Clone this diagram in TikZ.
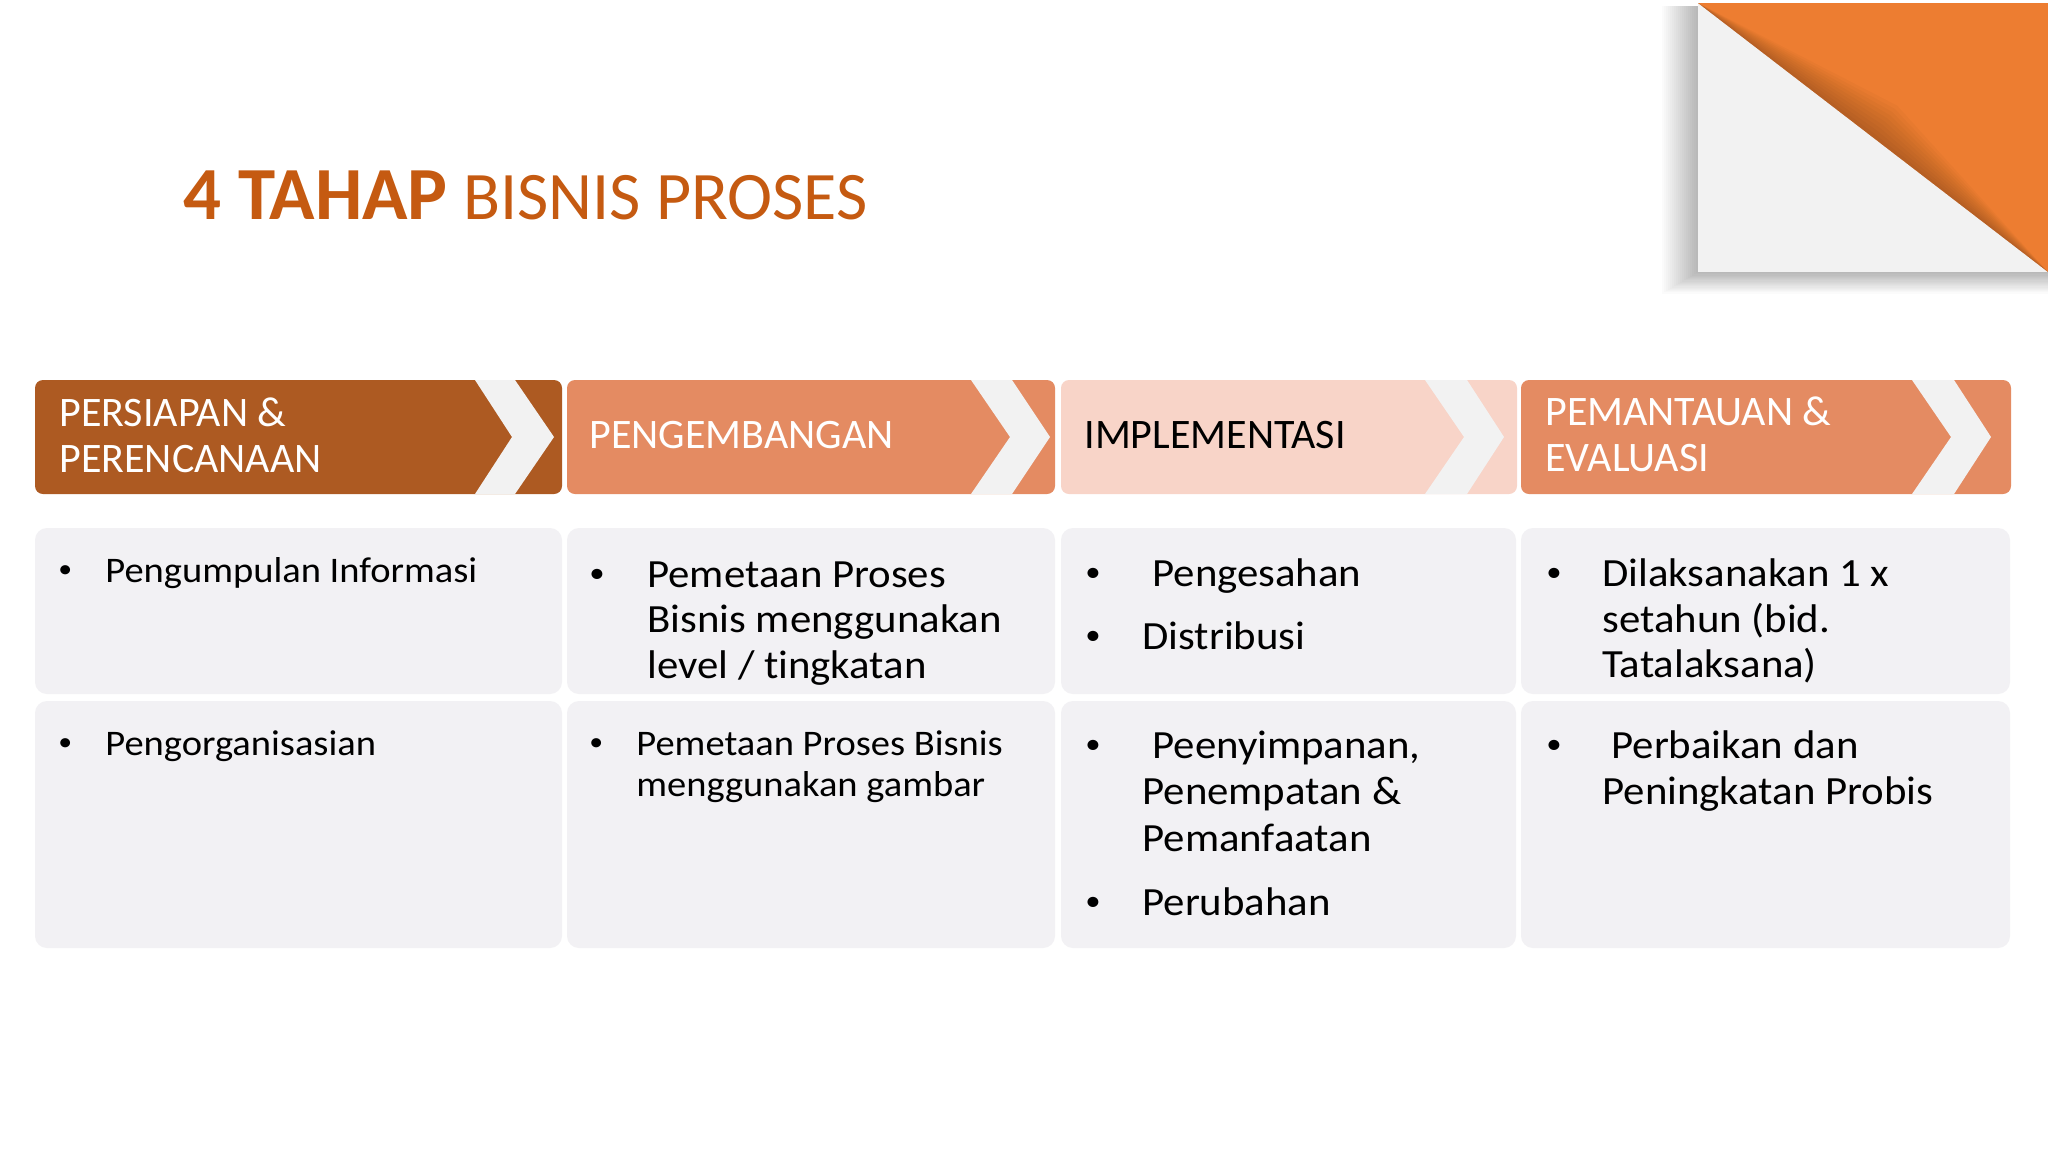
\documentclass[tikz,border=0pt]{standalone}
\usepackage{fontspec}
\setmainfont{Carlito}[Ligatures=CommonOff]
\newfontfamily\bodyfont{Carlito}[FakeStretch=1.07, Ligatures=CommonOff]
\definecolor{titleC}{HTML}{C55A11}
\definecolor{boxA}{HTML}{AD5A22}
\definecolor{boxB}{HTML}{E48B62}
\definecolor{boxC}{HTML}{F8D4C8}
\definecolor{chev}{HTML}{F2F2F2}
\definecolor{cellC}{HTML}{F2F1F4}
\definecolor{cornerO}{HTML}{ED7D31}
\definecolor{cornerG}{HTML}{F2F2F2}
\newcommand{\bul}{\raisebox{0.12em}{\scalebox{0.72}{•}}}
\begin{document}
\begin{tikzpicture}[x=0.5pt,y=-0.5pt,
  txt/.style={anchor=base west, inner sep=0pt},
  hdr/.style={txt, text=white, font=\fontsize{21}{24}\selectfont},
  big/.style={txt, font=\bodyfont\fontsize{20}{23}\selectfont},
  small/.style={txt, font=\bodyfont\fontsize{18}{21}\selectfont},
  cellbox/.style={fill=cellC, rounded corners=6pt},
  hbox/.style={rounded corners=4pt},
  chevron/.style={fill=chev}]
\useasboundingbox (0,0) rectangle (2048,1152);
\fill[white] (0,0) rectangle (2048,1152);

% corner decoration
\foreach \r in {2,4,...,36} {
  \fill[black, opacity=0.016] (1698-\r,6) rectangle (2048,272+\r*0.6);
}
\fill[cornerG] (1698,3) rectangle (2048,272);
\fill[cornerO] (1698,3) -- (2048,3) -- (2048,272) -- cycle;
\foreach \d in {4,8,...,40} {
  \fill[black, opacity=0.022] (1698,3) -- ({1873+0.605*\d},{137.5-0.797*\d}) -- (2048,272) -- cycle;
}

% title
\node[txt, text=titleC, font=\fontsize{34}{40}\selectfont] (title) at (183,219)
  {{\fontsize{37.5}{40}\selectfont\bfseries 4 TAHAP} BISNIS PROSES};

% header bars
\fill[boxA, hbox] (35,380) rectangle (562,494);
\fill[chevron] (475,380) -- (515,380) -- (554,437) -- (515,494) -- (475,494) -- (512,437) -- cycle;
\fill[boxB, hbox] (567,380) rectangle (1055,494);
\fill[chevron] (971,380) -- (1012,380) -- (1050,437) -- (1012,494) -- (971,494) -- (1010,437) -- cycle;
\fill[boxC, hbox] (1061,380) rectangle (1517,494);
\fill[chevron] (1425,380) -- (1467,380) -- (1504,437) -- (1467,494) -- (1425,494) -- (1464,437) -- cycle;
\fill[boxB, hbox] (1521,380) rectangle (2011,494);
\fill[chevron] (1912,380) -- (1954,380) -- (1991,437) -- (1954,494) -- (1912,494) -- (1951,437) -- cycle;

\node[hdr] (h1a) at (59,426) {PERSIAPAN \&};
\node[hdr] (h1b) at (59,472) {PERENCANAAN};
\node[hdr] (h2) at (589,448) {PENGEMBANGAN};
\node[hdr, text=black] (h3) at (1084,448) {IMPLEMENTASI};
\node[hdr] (h4a) at (1545,425) {PEMANTAUAN \&};
\node[hdr] (h4b) at (1545,471) {EVALUASI};

% cells
\fill[cellbox] (35,528) rectangle (562,694);
\fill[cellbox] (567,528) rectangle (1055,694);
\fill[cellbox] (1061,528) rectangle (1516,694);
\fill[cellbox] (1521,528) rectangle (2010,694);
\fill[cellbox] (35,701) rectangle (562,948);
\fill[cellbox] (567,701) rectangle (1055,948);
\fill[cellbox] (1061,701) rectangle (1516,948);
\fill[cellbox] (1521,701) rectangle (2010,948);

% column 1
\node[small] (b11) at (58,582) {\bul};
\node[small] (t11) at (105,582) {Pengumpulan Informasi};
\node[small] (b12) at (58,755) {\bul};
\node[small] (t12) at (105,755) {Pengorganisasian};

% column 2
\node[big] (b21) at (589,587) {\bul};
\node[big] (t21a) at (647,587) {Pemetaan Proses};
\node[big] (t21b) at (647,632) {Bisnis menggunakan};
\node[big] (t21c) at (647,678) {level / tingkatan};
\node[small] (b22) at (589,755) {\bul};
\node[small] (t22a) at (636,755) {Pemetaan Proses Bisnis};
\node[small] (t22b) at (636,796) {menggunakan gambar};

% column 3
\node[big] (b31) at (1085,586) {\bul};
\node[big] (t31) at (1152,586) {Pengesahan};
\node[big] (b31b) at (1085,649) {\bul};
\node[big] (t31b) at (1142,649) {Distribusi};
\node[big] (b32) at (1085,758) {\bul};
\node[big] (t32a) at (1152,758) {Peenyimpanan,};
\node[big] (t32b) at (1142,804) {Penempatan \&};
\node[big] (t32c) at (1142,851) {Pemanfaatan};
\node[big] (b32b) at (1085,915) {\bul};
\node[big] (t32d) at (1142,915) {Perubahan};

% column 4
\node[big] (b41) at (1546,586) {\bul};
\node[big] (t41a) at (1602,586) {Dilaksanakan 1 x};
\node[big] (t41b) at (1602,632) {setahun (bid.};
\node[big] (t41c) at (1602,677) {Tatalaksana)};
\node[big] (b42) at (1546,758) {\bul};
\node[big] (t42a) at (1611,758) {Perbaikan dan};
\node[big] (t42b) at (1602,804) {Peningkatan Probis};
\end{tikzpicture}
\end{document}
